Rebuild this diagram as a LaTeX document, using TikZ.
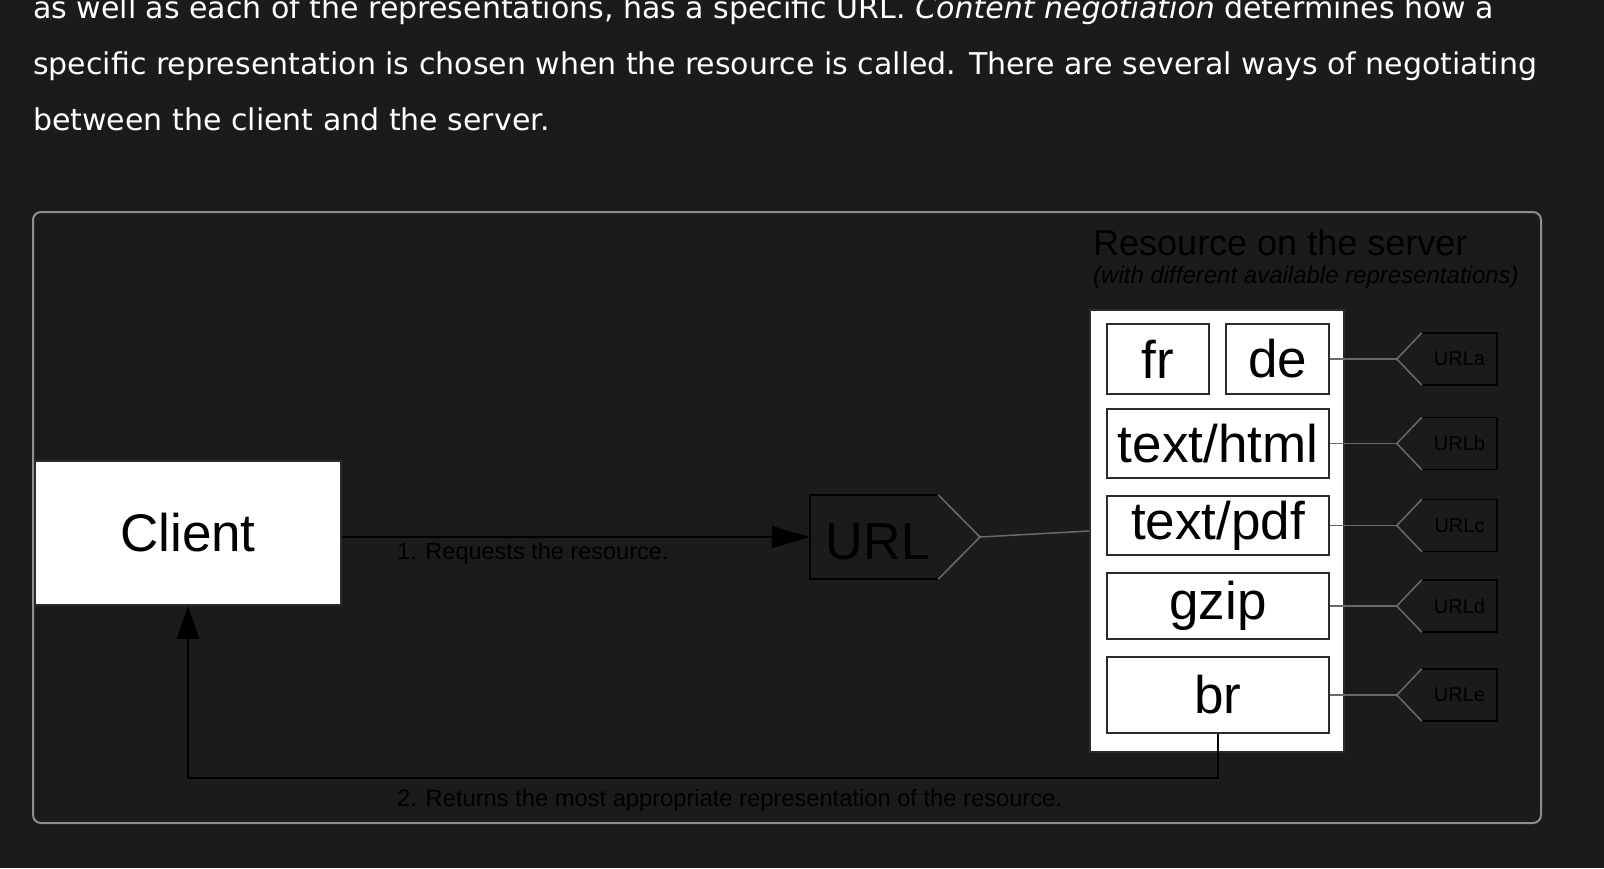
\documentclass[tikz,border=0pt]{standalone}
\usepackage{fontspec}
\setmainfont{Liberation Sans}
\newfontfamily\parafont{DejaVu Sans}
\usetikzlibrary{arrows.meta}
\definecolor{bg}{HTML}{1B1B1B}
\definecolor{framegray}{HTML}{8E8E8E}
\definecolor{linkgray}{HTML}{6A6A6A}
\definecolor{boxline}{HTML}{2C2C2C}

\begin{document}
\begin{tikzpicture}[x=1pt,y=-1pt,
    para/.style={anchor=base west,inner sep=0pt,text=white,font=\parafont\fontsize{30}{36}\selectfont},
    box/.style={draw=boxline,line width=1.5pt,fill=white,inner sep=0pt,font=\fontsize{53}{60}\selectfont},
    rep/.style={box,line width=2pt,minimum width=222pt},
    dim/.style={inner sep=0pt,text=black},
    tagbox/.style={dim,minimum width=75pt,minimum height=52pt,font=\fontsize{20}{24}\selectfont},
    link/.style={linkgray,line width=1.5pt}]
  \fill[bg] (0,0) rectangle (1604,868);
  \useasboundingbox (0,0) rectangle (1604,868);
  \clip (0,0) rectangle (1604,868);

  % text above the figure
  \node[para] (line1) at (33,18) {as well as each of the representations, has a specific URL. \textit{Content negotiation} determines how a};
  \node[para] (line2) at (33,74) {specific representation is chosen when the resource is called. There are several ways of negotiating};
  \node[para] (line3) at (33,130) {between the client and the server.};

  \draw[framegray,line width=2pt,rounded corners=8pt] (33,212) rectangle (1541,823);

  \node[box,minimum width=306pt,minimum height=144pt] (client) at (188,533) {Client};

  % URL sign
  \node[dim,minimum width=128pt,minimum height=84pt] (url) at (874,537) {};
  \node[dim,font=\fontsize{52}{60}\selectfont] (urltext) at (878,542) {URL};
  \coordinate (urltip) at (980,537);
  \draw[line width=1.5pt] (url.north east) -- (url.north west) -- (url.south west) -- (url.south east);
  \draw[link] (url.north east) -- (urltip) -- (url.south east);

  \draw[line width=1.5pt,-{Triangle[length=38pt,width=22pt]}] (client.east |- url.west) -- (url.west);
  \node[dim,anchor=west,font=\fontsize{23.5}{28}\selectfont] (req) at (397,553) {1. Requests the resource.};

  % resource and its representations
  \node[dim,anchor=base west,font=\fontsize{36}{42}\selectfont] (restitle) at (1093,255) {Resource on the server};
  \node[dim,anchor=base west,font=\itshape\fontsize{24}{28}\selectfont] (ressub) at (1093,283) {(with different available representations)};
  \node[draw=boxline,fill=white,line width=1.5pt,minimum width=254pt,minimum height=442pt,inner sep=0pt] (res) at (1217,531) {};
  \node[box,line width=2pt,minimum width=102pt,minimum height=70pt] (fr) at (1158,359) {fr};
  \node[box,line width=2pt,minimum width=103pt,minimum height=70pt] (de) at (1277.5,359) {de};
  \node[rep,minimum height=69pt] (html) at (1218,443.5) {text/html};
  \node[rep,minimum height=59pt] (pdf) at (1218,525.5) {text/pdf};
  \node[rep,minimum height=66pt] (gzip) at (1218,606) {gzip};
  \node[rep,minimum height=76pt] (br) at (1218,695) {br};

  \draw[link] (urltip) -- (res.west);

  % one URL for each representation
  \foreach \rep/\lab in {de/a,html/b,pdf/c,gzip/d,br/e} {
    \node[tagbox] (url\lab) at (1459.5,0 |- \rep.east) {URL\lab};
    \coordinate (tip\lab) at ([xshift=-25pt]url\lab.west);
    \draw[line width=1.5pt] (url\lab.north west) -- (url\lab.north east) -- (url\lab.south east) -- (url\lab.south west);
    \draw[link] (url\lab.north west) -- (tip\lab) -- (url\lab.south west);
    \draw[link] (\rep.east) -- (tip\lab);
  }

  \draw[line width=1.5pt,-{Triangle[length=33pt,width=22pt]}] (br.south) -- ++(0,44) -| (client.south);
  \node[dim,anchor=west,font=\fontsize{23.7}{28}\selectfont] (ret) at (397,800) {2. Returns the most appropriate representation of the resource.};
\end{tikzpicture}
\end{document}
